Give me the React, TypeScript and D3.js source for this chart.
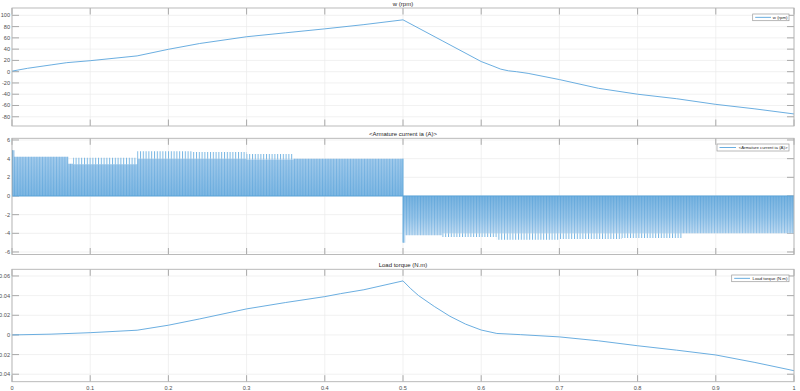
import React from "react";
import * as d3 from "d3";

// ---- data ----
const xTicks = [0, 0.1, 0.2, 0.3, 0.4, 0.5, 0.6, 0.7, 0.8, 0.9, 1];
const xTickLabels = ["0", "0.1", "0.2", "0.3", "0.4", "0.5", "0.6", "0.7", "0.8", "0.9", "1"];

const speedT = [0, 0.02, 0.05, 0.07, 0.1, 0.16, 0.2, 0.24, 0.3, 0.35, 0.4, 0.45, 0.5, 0.55, 0.6, 0.615, 0.625, 0.635, 0.645, 0.66, 0.7, 0.75, 0.8, 0.85, 0.9, 0.95, 1];
const speedW = [1, 6, 12, 16, 19.5, 28, 39.7, 50, 62, 69, 76, 83.5, 92, 55, 18, 10, 4.5, 1.5, 0, -3, -14, -29.5, -40, -48, -58, -66, -75];
const speedTicks = [-80, -60, -40, -20, 0, 20, 40, 60, 80, 100];

// armature current: step envelope (segment start times, dense level, spike level)
const currentT = [0, 0.003, 0.072, 0.078, 0.16, 0.23, 0.3, 0.36, 0.5, 0.503, 0.55, 0.62, 0.7, 0.78, 0.857, 1.0];
const currentBase = [4.9, 4.2, 3.45, 3.4, 4.0, 4.0, 3.9, 4.0, -5.0, -4.2, -4.0, -4.0, -4.0, -4.0, -4.0, -4.0];
const currentPeak = [4.9, 4.2, 3.45, 4.1, 4.8, 4.7, 4.5, 4.0, -5.0, -4.2, -4.4, -4.7, -4.6, -4.5, -4.0, -4.0];
const currentTicks = [-6, -4, -2, 0, 2, 4, 6];

const torqueT = [0, 0.05, 0.1, 0.16, 0.2, 0.24, 0.3, 0.35, 0.4, 0.42, 0.45, 0.5, 0.51, 0.52, 0.54, 0.56, 0.58, 0.6, 0.62, 0.65, 0.7, 0.75, 0.8, 0.85, 0.9, 0.95, 1];
const torqueV = [0, 0.0008, 0.0023, 0.0048, 0.0099, 0.0163, 0.0265, 0.033, 0.039, 0.042, 0.046, 0.055, 0.047, 0.04, 0.029, 0.019, 0.011, 0.005, 0.0015, 0.0003, -0.002, -0.006, -0.011, -0.0155, -0.0204, -0.028, -0.0364];
const torqueTicks = [-0.04, -0.02, 0, 0.02, 0.04, 0.06];

const titles = ["w (rpm)", "<Armature current ia (A)>", "Load torque (N.m)"];

// ---- layout ----
const X0 = 12, X1 = 794;
const panels = [
  { top: 8, bottom: 126, domain: [-96.4, 113], ticks: speedTicks, fmt: (v: number) => String(v) },
  { top: 138.3, bottom: 254.5, domain: [-6.27, 6.18], ticks: currentTicks, fmt: (v: number) => String(v) },
  { top: 269.3, bottom: 381.7, domain: [-0.0476, 0.0668], ticks: torqueTicks, fmt: (v: number) => (v === 0 ? "0" : String(+v.toFixed(2))) },
];
const legends = [
  { x0: 752.7, x1: 789, y0: 14, y1: 20.7, lineEnd: 771, text: "w (rpm)" },
  { x0: 717, x1: 789, y0: 144, y1: 151, lineEnd: 736, text: "<Armature current ia (A)>" },
  { x0: 731.7, x1: 789, y0: 275, y1: 281.7, lineEnd: 750, text: "Load torque (N.m)" },
];

const BLUE = "#5aa5dc";
const FONT = "'Liberation Sans', Arial, sans-serif";

export default function App() {
  const x = d3.scaleLinear().domain([0, 1]).range([X0, X1]);
  const ys = panels.map((p) => d3.scaleLinear().domain(p.domain).range([p.bottom, p.top]));

  const speedLine = d3.line<number>().x((_, i) => x(speedT[i])).y((d) => ys[0](d)).curve(d3.curveLinear)(speedW) || "";
  const torqueLine = d3.line<number>().x((_, i) => x(torqueT[i])).y((d) => ys[2](d)).curve(d3.curveLinear)(torqueV) || "";

  const yc = ys[1];
  const stepIdx = currentT.map((_, i) => i);
  const baseArea = d3.area<number>()
    .x((i) => x(currentT[i]))
    .y0(() => yc(0))
    .y1((i) => yc(currentBase[Math.min(i, currentBase.length - 2)]))
    .curve(d3.curveStepAfter)(stepIdx) || "";
  const spikeArea = d3.area<number>()
    .x((i) => x(currentT[i]))
    .y0((i) => yc(currentBase[Math.min(i, currentBase.length - 2)]))
    .y1((i) => yc(currentPeak[Math.min(i, currentPeak.length - 2)]))
    .curve(d3.curveStepAfter)(stepIdx) || "";

  return (
    <svg width={800} height={391} style={{ position: "absolute", left: 0, top: 0, background: "#fff" }} fontFamily={FONT}>
      <defs>
        <pattern id="stripes" width={2.8} height={10} patternUnits="userSpaceOnUse">
          <rect x={0} y={0} width={1} height={10} fill="#3d93d3" opacity={0.35} />
        </pattern>
        <pattern id="spikes" width={2.8} height={10} patternUnits="userSpaceOnUse">
          <rect x={0} y={0} width={1} height={10} fill="#6aaee0" opacity={0.9} />
        </pattern>
        <linearGradient id="gpos" gradientUnits="userSpaceOnUse" x1={0} x2={0} y1={yc(0)} y2={yc(4.2)}>
          <stop offset="0" stopColor="#7db7e2" />
          <stop offset="1" stopColor="#a4cbeb" />
        </linearGradient>
        <linearGradient id="gneg" gradientUnits="userSpaceOnUse" x1={0} x2={0} y1={yc(0)} y2={yc(-4.2)}>
          <stop offset="0" stopColor="#76b2df" />
          <stop offset="0.55" stopColor="#98c5e8" />
          <stop offset="1" stopColor="#c6def2" />
        </linearGradient>
        <clipPath id="cpos"><rect x={X0} y={0} width={x(0.5) - X0} height={400} /></clipPath>
        <clipPath id="cneg"><rect x={x(0.5)} y={0} width={X1 - x(0.5)} height={400} /></clipPath>
      </defs>

      {panels.map((p, k) => {
        const y = ys[k];
        return (
          <g key={k}>
            {xTicks.map((t) => (
              <line key={"gx" + t} x1={x(t)} x2={x(t)} y1={p.top} y2={p.bottom} stroke="#ebebeb" strokeWidth={0.7} />
            ))}
            {p.ticks.map((v) => (
              <line key={"gy" + v} x1={X0} x2={X1} y1={y(v)} y2={y(v)} stroke="#ebebeb" strokeWidth={0.7} />
            ))}
            {xTicks.map((t) => (
              <g key={"tx" + t}>
                <line x1={x(t)} x2={x(t)} y1={p.top} y2={p.top + 6.5} stroke="#a0a0a0" strokeWidth={0.9} />
                <line x1={x(t)} x2={x(t)} y1={p.bottom} y2={p.bottom - 6.5} stroke="#a0a0a0" strokeWidth={0.9} />
              </g>
            ))}
            {p.ticks.map((v) => (
              <g key={"ty" + v}>
                <line x1={X0} x2={X0 + 7} y1={y(v)} y2={y(v)} stroke="#a0a0a0" strokeWidth={0.9} />
                <line x1={X1} x2={X1 - 7} y1={y(v)} y2={y(v)} stroke="#a0a0a0" strokeWidth={0.9} />
                <text x={10} y={y(v)} dy="0.35em" textAnchor="end" fontSize={5.6} fill="#4d4d4d">{p.fmt(v)}</text>
              </g>
            ))}
            <text x={(X0 + X1) / 2} y={p.top - 2.3} textAnchor="middle" fontSize={6} fill="#262626">{titles[k]}</text>
          </g>
        );
      })}

      <path d={speedLine} fill="none" stroke={BLUE} strokeWidth={0.9} />

      <g>
        <path d={baseArea} fill="url(#gpos)" clipPath="url(#cpos)" />
        <path d={baseArea} fill="url(#gneg)" clipPath="url(#cneg)" />
        <path d={baseArea} fill="url(#stripes)" />
        <path d={spikeArea} fill="url(#spikes)" />
        <line x1={X0} x2={X1} y1={yc(0)} y2={yc(0)} stroke="#5aa5da" strokeWidth={1} />
        <line x1={x(0.5)} x2={x(0.5)} y1={yc(4.0)} y2={yc(-5.0)} stroke="#5aa5da" strokeWidth={0.9} />
        <line x1={X0 + 0.5} x2={X0 + 0.5} y1={yc(0)} y2={yc(4.9)} stroke="#5aa5da" strokeWidth={1} />
      </g>

      <path d={torqueLine} fill="none" stroke={BLUE} strokeWidth={0.9} />

      {panels.map((p, k) => (
        <rect key={"b" + k} x={X0} y={p.top} width={X1 - X0} height={p.bottom - p.top} fill="none" stroke="#b3b3b3" strokeWidth={0.9} />
      ))}

      {xTicks.map((t, i) => (
        <text key={"xl" + t} x={x(t)} y={390} textAnchor="middle" fontSize={5.6} fill="#4d4d4d">{xTickLabels[i]}</text>
      ))}

      {legends.map((l, k) => (
        <g key={"lg" + k}>
          <rect x={l.x0} y={l.y0} width={l.x1 - l.x0} height={l.y1 - l.y0} fill="#fff" stroke="#9a9a9a" strokeWidth={0.7} />
          <line x1={l.x0 + 2.5} x2={l.lineEnd} y1={(l.y0 + l.y1) / 2} y2={(l.y0 + l.y1) / 2} stroke={BLUE} strokeWidth={0.9} />
          <text x={l.x1 - 1.6} y={(l.y0 + l.y1) / 2} dy="0.35em" textAnchor="end" fontSize={4.3} fill="#262626">{l.text}</text>
        </g>
      ))}
    </svg>
  );
}
